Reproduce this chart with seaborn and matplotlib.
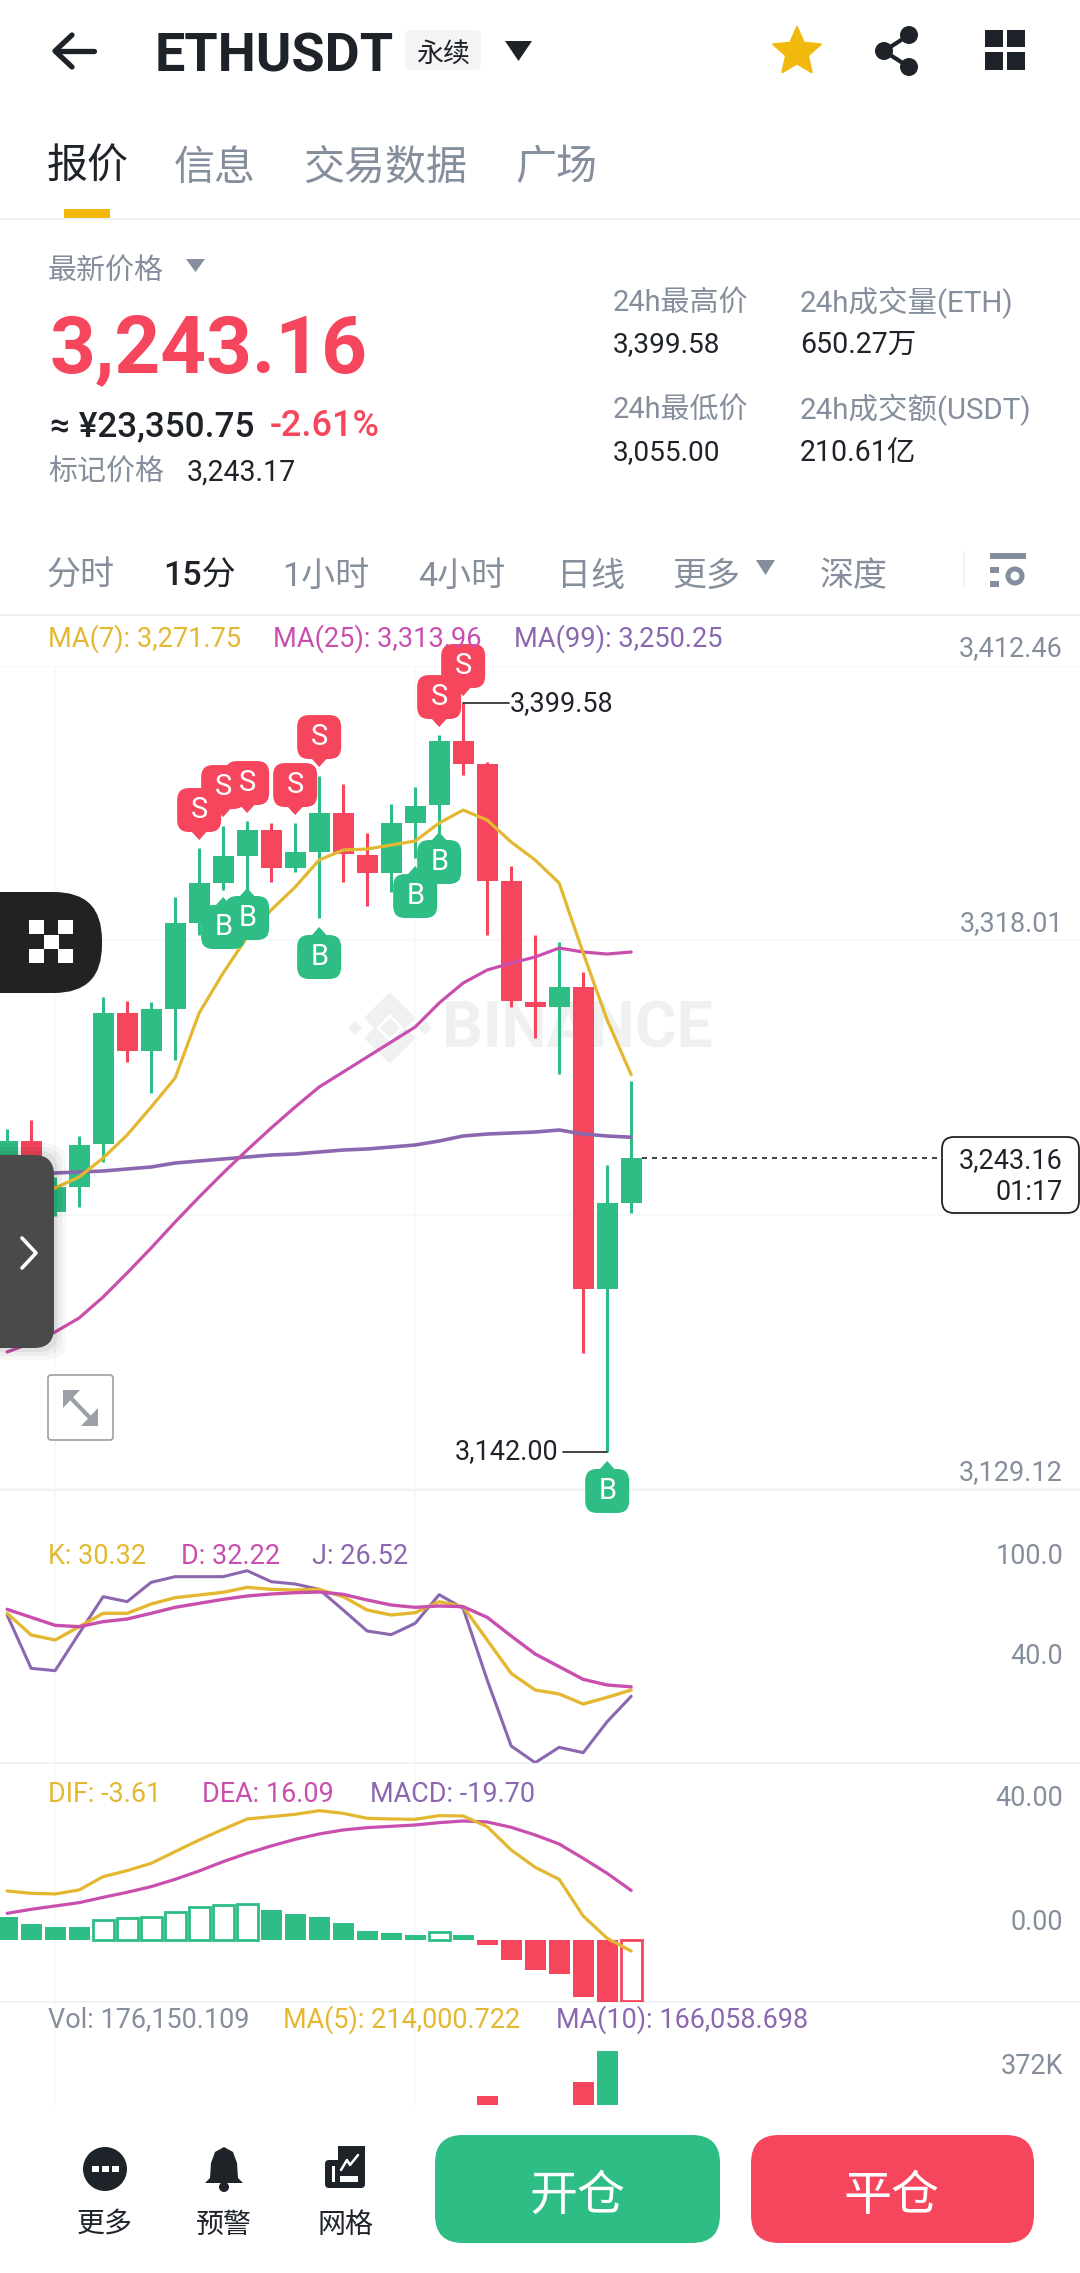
import numpy as np
import pandas as pd
import seaborn as sns
import matplotlib.pyplot as plt
from matplotlib.patches import FancyBboxPatch, Polygon, Circle, Rectangle

W, H = 1080, 2273
GREEN = '#2EBD85'
RED = '#F6465D'
YELLOW = '#E3B830'
PINK = '#C94FAE'
PURPLE = '#8B67B0'
GRAY = '#848E9C'
DARK = '#1E2329'
GRID = '#F7F8F8'
LINE = '#EFF0F2'

# candles, oldest first
opens = [3236.57, 3248.95, 3224.53, 3233.13, 3247.92, 3292.97, 3279.90, 3294.35, 3323.92,
         3337.68, 3346.96, 3355.90, 3342.83, 3348.34, 3361.75, 3347.31, 3341.12, 3358.31,
         3364.50, 3386.51, 3378.60, 3338.37, 3296.74, 3295.03, 3301.91, 3198.05, 3227.63]
closes = [3248.95, 3232.00, 3233.13, 3247.57, 3293.07, 3279.90, 3294.35, 3323.92, 3337.68,
          3346.96, 3355.90, 3342.83, 3348.34, 3361.75, 3347.65, 3341.12, 3358.31, 3364.16,
          3386.51, 3378.60, 3338.37, 3297.10, 3295.03, 3301.91, 3198.05, 3227.63, 3243.16]
highs = [3253.08, 3256.17, 3236.57, 3250.67, 3298.47, 3297.10, 3296.74, 3332.86, 3349.71,
         3357.28, 3359.00, 3358.31, 3358.31, 3374.47, 3371.72, 3354.87, 3364.84, 3370.69,
         3388.57, 3399.58, 3379.29, 3343.52, 3319.79, 3317.39, 3307.07, 3240.70, 3269.58]
lows = [3230.00, 3226.00, 3223.16, 3226.25, 3241.73, 3276.12, 3265.46, 3276.81, 3319.79,
        3335.27, 3335.27, 3338.02, 3341.46, 3325.64, 3338.02, 3329.77, 3334.58, 3346.27,
        3354.87, 3374.82, 3319.79, 3295.03, 3284.37, 3271.99, 3176.04, 3142.00, 3224.19]

ma7 = [3228.66, 3230.38, 3232.79, 3236.57, 3243.10, 3251.01, 3260.64, 3270.62, 3292.97,
       3306.73, 3319.11, 3328.39, 3336.30, 3345.59, 3349.02, 3349.37, 3350.74, 3352.12,
       3358.31, 3362.78, 3359.34, 3351.78, 3345.59, 3337.68, 3313.60, 3290.56, 3271.75]
ma25 = [3176.39, 3179.48, 3183.27, 3188.08, 3195.30, 3203.56, 3212.15, 3221.09, 3229.69,
        3237.95, 3245.85, 3253.42, 3260.64, 3267.52, 3272.68, 3277.84, 3283.00, 3288.15,
        3296.41, 3303.29, 3307.76, 3310.16, 3312.23, 3315.32, 3313.95, 3313.26, 3313.96]
ma99 = [3237.26, 3237.60, 3237.95, 3238.29, 3238.63, 3239.32, 3240.01, 3241.38, 3242.07,
        3242.76, 3243.45, 3244.14, 3244.48, 3245.17, 3245.85, 3246.20, 3246.89, 3247.57,
        3248.95, 3250.67, 3251.35, 3251.70, 3252.04, 3252.73, 3251.35, 3250.67, 3250.25]

k_vals = [76.32, 63.32, 60.32, 68.32, 76.32, 76.32, 81.92, 85.72, 87.32, 88.92, 91.92, 90.72, 90.32, 90.72,
          86.32, 78.32, 75.32, 76.72, 83.32, 80.32, 60.32, 40.32, 30.32, 27.92, 21.92, 25.92, 30.32]
d_vals = [78.72, 73.92, 69.12, 68.32, 71.32, 72.92, 76.32, 79.92, 82.32, 84.72, 86.72, 87.92, 88.72, 89.12,
          87.72, 84.32, 81.32, 79.92, 80.72, 80.32, 73.92, 62.72, 51.92, 44.32, 36.72, 33.32, 32.22]
j_vals = [75.32, 43.32, 41.92, 64.32, 86.32, 83.32, 94.92, 98.32, 98.32, 98.32, 101.92, 95.32, 93.92, 90.72,
          78.32, 65.72, 63.52, 70.32, 87.52, 79.32, 36.32, -3.28, -13.28, -4.08, -7.28, 11.32, 26.52]

dif = [15.92, 15.16, 14.95, 16.25, 20.58, 22.53, 24.91, 28.70, 32.49, 35.96, 39.31, 40.07, 40.83, 42.02,
       41.15, 39.53, 39.31, 39.20, 40.40, 40.29, 36.82, 29.24, 23.61, 19.71, 7.80, 0.54, -3.61]
dea = [8.66, 9.96, 11.05, 12.13, 13.86, 15.49, 17.33, 19.71, 22.42, 25.45, 28.16, 30.54, 32.71, 34.44,
       35.74, 36.50, 36.93, 37.36, 38.12, 38.66, 38.34, 36.61, 34.11, 31.19, 26.53, 21.66, 16.09]
macd_hist = [7.36, 5.20, 4.12, 4.12, 6.50, 7.04, 7.58, 9.21, 10.83, 11.37, 11.59, 9.75, 8.34, 7.58,
             5.42, 3.03, 2.17, 1.62, 2.49, 1.62, -1.62, -6.50, -9.75, -11.15, -18.41, -20.25, -19.70]
macd_hollow = [4, 5, 6, 7, 8, 9, 10, 18, 26]

# only the tallest bars reach above the cut-off edge of the panel
volumes = [120000, 95000, 70000, 80000, 150000, 75000, 70000, 140000, 130000,
           90000, 85000, 80000, 60000, 120000, 90000, 70000, 85000, 65000,
           130000, 90000, 208600, 160000, 130000, 133000, 259500, 372000, 176150]

sell_idx = [8, 9, 10, 12, 13, 18, 19]
sell_price = [3352.46, 3360.37, 3361.75, 3361.06, 3377.57, 3391.32, 3401.99]
buy_idx = [9, 10, 13, 17, 18, 25]
buy_price = [3332.86, 3335.96, 3322.55, 3343.52, 3355.22, 3138.90]

price_ticks = ['3,412.46', '3,318.01', '3,129.12']
price_grid = [3412.46, 3318.01, 3223.57, 3129.12]

idx = np.arange(len(opens))
is_up = [c >= o for o, c in zip(opens, closes)]

sns.set_theme(style='white')
plt.rcParams['font.family'] = ['Roboto', 'Noto Sans CJK SC', 'DejaVu Sans']

fig = plt.figure(figsize=(W / 100, H / 100), dpi=100, facecolor='white')


def px_axes(top, bottom, zorder=1):
    ax = fig.add_axes([0, 1 - bottom / H, 1, (bottom - top) / H], zorder=zorder)
    ax.axis('off')
    return ax


def panel_axes(top, bottom):
    ax = px_axes(top, bottom, zorder=2)
    for x in (2, 17):
        ax.axvline(x, color=GRID, lw=1.2, zorder=0)
    return ax


def finish(ax, ylim):
    ax.set_xlim(-0.2975, 44.70)
    ax.set_ylim(*ylim)
    ax.axis('off')


def draw_line(ax, values, color, lw=2.2):
    sns.lineplot(x=idx, y=values, color=color, lw=lw, ax=ax, estimator=None,
                 errorbar=None, legend=False, zorder=5)


# pixel layers: bg is under the charts, fg is on top of them
bg = px_axes(0, H, zorder=0)
bg.set_xlim(0, W)
bg.set_ylim(H, 0)
fg = px_axes(0, H, zorder=5)
fg.set_xlim(0, W)
fg.set_ylim(H, 0)


def txt(x, y, s, size, color=DARK, ha='left', weight='normal', ax=None, **kw):
    (ax or fg).text(x, y, s, fontsize=size * 0.72, color=color, ha=ha, va='center',
                    fontweight=weight, **kw)


def tri(x0, x1, y0, y1, color):
    fg.add_patch(Polygon([(x0, y0), (x1, y0), ((x0 + x1) / 2, y1)], color=color, lw=0))


def box(x0, y0, x1, y1, r, color, ax=None, **kw):
    (ax or fg).add_patch(FancyBboxPatch((x0 + r, y0 + r), x1 - x0 - 2 * r, y1 - y0 - 2 * r,
                                        boxstyle=f'round,pad={r},rounding_size={r}',
                                        facecolor=color, lw=kw.pop('lw', 0), **kw))


# main candle chart
ylim_main = (3129.12, 3412.46)
ax_main = panel_axes(665.6, 1489.4)
for p in price_grid:
    ax_main.axhline(p, color=GRID, lw=1.6, zorder=0)
body = [abs(c - o) for o, c in zip(opens, closes)]
bottoms = [min(o, c) for o, c in zip(opens, closes)]
colors = [GREEN if u else RED for u in is_up]
ax_main.vlines(idx, lows, highs, colors=colors, lw=2.2, zorder=2)
ax_main.bar(idx, body, bottom=bottoms, width=0.87, color=colors, lw=0, zorder=3)
draw_line(ax_main, ma99, PURPLE, 2.6)
draw_line(ax_main, ma25, PINK, 2.3)
draw_line(ax_main, ma7, YELLOW, 2.3)
finish(ax_main, ylim_main)

# KDJ
ylim_kdj = (-13.48, 150.32)
ax_kdj = panel_axes(1490, 1763)
draw_line(ax_kdj, j_vals, PURPLE, 2.2)
draw_line(ax_kdj, k_vals, YELLOW, 2.4)
draw_line(ax_kdj, d_vals, PINK, 2.4)
finish(ax_kdj, ylim_kdj)

# MACD
ylim_macd = (-20.15, 57.5)
ax_macd = panel_axes(1763, 2002)
sns.barplot(x=idx, y=macd_hist, native_scale=True, width=0.87, color=GREEN, errorbar=None, ax=ax_macd, zorder=3)
for bar in ax_macd.patches:
    i = int(round(bar.get_x() + bar.get_width() / 2))
    c = GREEN if macd_hist[i] >= 0 else RED
    if i in macd_hollow:
        bar.set(facecolor='white', edgecolor=c, linewidth=2.0)
    else:
        bar.set(facecolor=c, edgecolor='none', linewidth=0)
draw_line(ax_macd, dea, PINK, 2.3)
draw_line(ax_macd, dif, YELLOW, 2.3)
finish(ax_macd, ylim_macd)

# Volume, the bottom bar cuts it off well above zero
ylim_vol = (176150, 550000)
ax_vol = panel_axes(2002, 2105)
sns.barplot(x=idx, y=volumes, native_scale=True, width=0.87, color=GREEN, errorbar=None, ax=ax_vol, zorder=3)
for bar in ax_vol.patches:
    i = int(round(bar.get_x() + bar.get_width() / 2))
    bar.set(facecolor=colors[i], edgecolor='none')
finish(ax_vol, ylim_vol)

for y in (1490, 1763, 2002):
    bg.plot([0, W], [y, y], color=LINE, lw=1.2)

# watermark
txt(442, 1030, 'BINANCE', 64, '#EEF0F1', weight='bold', ax=bg)
bg.add_patch(Polygon([(390, 992), (416, 1018), (405, 1029), (390, 1014), (375, 1029), (364, 1018)], color='#EEF0F1', lw=0))
bg.add_patch(Polygon([(390, 1064), (416, 1038), (405, 1027), (390, 1042), (375, 1027), (364, 1038)], color='#EEF0F1', lw=0))
bg.add_patch(Polygon([(390, 1018), (400, 1028), (390, 1038), (380, 1028)], color='#EEF0F1', lw=0))
bg.add_patch(Polygon([(355, 1021), (362, 1028), (355, 1035), (348, 1028)], color='#EEF0F1', lw=0))
bg.add_patch(Polygon([(425, 1021), (432, 1028), (425, 1035), (418, 1028)], color='#EEF0F1', lw=0))


def to_px(ax, i, val):
    return fg.transData.inverted().transform(ax.transData.transform((i, val)))


# buy / sell tags hang off the candles
fig.canvas.draw()
for i, p in zip(sell_idx, sell_price):
    x, y = to_px(ax_main, i, p)
    fg.add_patch(Polygon([(x - 9, y - 10), (x + 9, y - 10), (x, y)], color=RED, lw=0, zorder=3))
    box(x - 22, y - 52, x + 22, y - 8, 12, RED, zorder=3)
    txt(x, y - 30, 'S', 29, 'white', ha='center', zorder=4)
for i, p in zip(buy_idx, buy_price):
    x, y = to_px(ax_main, i, p)
    fg.add_patch(Polygon([(x - 9, y + 10), (x + 9, y + 10), (x, y)], color=GREEN, lw=0, zorder=3))
    box(x - 22, y + 8, x + 22, y + 52, 12, GREEN, zorder=3)
    txt(x, y + 30, 'B', 29, 'white', ha='center', zorder=4)

# high / low notes
hx, hy = to_px(ax_main, 19, 3399.58)
fg.plot([hx, hx + 46], [hy, hy], color='#222222', lw=1.2)
txt(hx + 47, hy, '3,399.58', 27)
lx, ly = to_px(ax_main, 25, 3142.00)
fg.plot([lx - 44, lx], [ly, ly], color='#222222', lw=1.2)
txt(lx - 49, ly, '3,142.00', 27, ha='right')

# last price marker
cx, cy = to_px(ax_main, 26, 3243.16)
fg.plot([cx + 11, 942], [cy, cy], color='#222222', lw=1.2, ls=(0, (3, 3)))
box(942, 1137, 1079, 1213, 12, 'white', edgecolor='#222222', lw=1.3)
txt(1063, 1161, '3,243.16', 27, ha='right')
txt(1063, 1193, '01:17', 27, ha='right')

# chart legends and axis labels
txt(48, 639, 'MA(7): 3,271.75', 27.3, YELLOW)
txt(273, 639, 'MA(25): 3,313.96', 27.3, PINK)
txt(514, 639, 'MA(99): 3,250.25', 27.3, PURPLE)
for s, y in zip(price_ticks, (649, 924, 1473)):
    txt(1063, y, s, 27, GRAY, ha='right')
txt(48, 1556, 'K: 30.32', 27, YELLOW)
txt(181, 1556, 'D: 32.22', 27, PINK)
txt(312, 1556, 'J: 26.52', 27, PURPLE)
txt(1063, 1557, '100.0', 27, GRAY, ha='right')
txt(1063, 1657, '40.0', 27, GRAY, ha='right')
txt(48, 1795, 'DIF: -3.61', 27, YELLOW)
txt(202, 1795, 'DEA: 16.09', 27, PINK)
txt(370, 1795, 'MACD: -19.70', 27, PURPLE)
txt(1063, 1799, '40.00', 27, GRAY, ha='right')
txt(1063, 1923, '0.00', 27, GRAY, ha='right')
txt(48, 2020, 'Vol: 176,150.109', 27, GRAY)
txt(283, 2020, 'MA(5): 214,000.722', 27, YELLOW)
txt(556, 2020, 'MA(10): 166,058.698', 27, PURPLE)
txt(1063, 2066, '372K', 27, GRAY, ha='right')

# top bar
fg.plot([56, 94], [51, 51], color=DARK, lw=3.8, solid_capstyle='round')
fg.plot([72, 55, 72], [35, 51, 67], color=DARK, lw=3.8, solid_capstyle='round', solid_joinstyle='round')
txt(155, 57, 'ETHUSDT', 54, DARK, weight='bold')
box(405, 30, 481, 70, 6, '#F5F5F5')
txt(443, 54, '永续', 27, DARK, ha='center')
tri(505, 532, 41, 61, DARK)
star_a = np.deg2rad(90 + 36 * np.arange(10))
star_r = np.array([25, 11.5] * 5)
fg.add_patch(Polygon(np.c_[797 + star_r * np.cos(star_a), 52 - star_r * np.sin(star_a)], color='#F0B90B', lw=1.5,
                     joinstyle='round'))
for c in ((909, 35), (884, 51), (909, 67)):
    fg.add_patch(Circle(c, 9, color=DARK, lw=0))
fg.plot([909, 884, 909], [35, 51, 67], color=DARK, lw=3)
for x0, y0, x1, y1 in ((985, 30, 1003, 47), (1007, 30, 1025, 47), (985, 52, 1003, 70), (1007, 52, 1025, 70)):
    fg.add_patch(Rectangle((x0, y0), x1 - x0, y1 - y0, color=DARK, lw=0))

# tabs
txt(47, 168, '报价', 41, DARK, weight='medium')
txt(174, 168, '信息', 41, GRAY)
txt(303, 168, '交易数据', 41, GRAY)
txt(515, 168, '广场', 41, GRAY)
fg.add_patch(Rectangle((64, 209), 46, 9, color='#F0B90B', lw=0))
fg.plot([0, W], [219, 219], color=LINE, lw=1.5)

# price summary
txt(48, 271, '最新价格', 29, GRAY)
tri(186, 205, 259, 272, GRAY)
txt(50, 351, '3,243.16', 80, RED, weight='bold')
txt(50, 427, '≈ ¥23,350.75', 35, DARK, weight='medium')
txt(270, 427, '-2.61%', 36, RED, weight='medium')
txt(48, 472, '标记价格', 29, GRAY)
txt(187, 473, '3,243.17', 28.5)
txt(613, 303, '24h最高价', 29, GRAY)
txt(613, 345, '3,399.58', 28)
txt(800, 303, '24h成交量(ETH)', 29.5, GRAY)
txt(800, 345, '650.27万', 28.5)
txt(613, 410, '24h最低价', 29, GRAY)
txt(613, 453, '3,055.00', 28)
txt(800, 410, '24h成交额(USDT)', 29.5, GRAY)
txt(800, 453, '210.61亿', 28.5)

# interval row
txt(47, 577, '分时', 34, GRAY)
txt(163, 577, '15分', 34, DARK, weight='medium')
txt(282, 577, '1小时', 34, GRAY)
txt(418, 577, '4小时', 34, GRAY)
txt(557, 577, '日线', 34, GRAY)
txt(672, 577, '更多', 34, GRAY)
tri(756, 775, 560, 575, GRAY)
txt(820, 577, '深度', 34, GRAY)
fg.plot([964, 964], [552, 585], color=LINE, lw=1.2)
fg.add_patch(Rectangle((990, 553), 36, 6, color=GRAY, lw=0))
fg.add_patch(Rectangle((990, 567), 9, 6, color=GRAY, lw=0))
fg.add_patch(Rectangle((990, 581), 9, 6, color=GRAY, lw=0))
fg.add_patch(Circle((1015, 576), 7, facecolor='white', edgecolor=GRAY, lw=3.6))
fg.plot([0, W], [615, 615], color=LINE, lw=1.2)

# floating widgets
box(-60, 892, 102, 993, 48, '#222222')
for x0, y0 in ((29, 920), (58, 920), (44, 935), (29, 949), (58, 949)):
    fg.add_patch(Rectangle((x0, y0), 15, 14, color='white', lw=0))
for pad, a in ((12, 0.03), (8, 0.04), (4, 0.05)):
    box(-40, 1155 - pad, 54 + pad, 1348 + pad, 20, 'black', alpha=a)
box(-40, 1155, 54, 1348, 20, '#4A4A4A')
fg.plot([22, 36, 22], [1238, 1253, 1268], color='white', lw=2.6, solid_capstyle='round')
box(48, 1375, 113, 1440, 3, 'white', edgecolor='#9AA0A6', lw=1.2)
fg.add_patch(Polygon([(63, 1390), (80, 1390), (63, 1408)], color='#9AA0A6', lw=0))
fg.add_patch(Polygon([(98, 1426), (81, 1426), (98, 1408)], color='#9AA0A6', lw=0))
fg.plot([66, 95], [1393, 1423], color='#9AA0A6', lw=3)

# bottom bar
fg.add_patch(Circle((105, 2169), 22, color=DARK, lw=0))
for x in (95, 105, 115):
    fg.add_patch(Rectangle((x - 3.5, 2166), 7, 6, color='white', lw=0))
fg.add_patch(Polygon([(224, 2147), (233, 2152), (237, 2163), (238, 2178), (243, 2183), (205, 2183), (210, 2178),
                      (211, 2163), (215, 2152)], color=DARK, lw=0))
fg.add_patch(Circle((224, 2187), 5, color=DARK, lw=0))
box(325, 2160, 365, 2188, 4, DARK)
fg.add_patch(Rectangle((338, 2146), 27, 20, color=DARK, lw=0))
fg.plot([341, 347, 350, 358], [2170, 2160, 2165, 2155], color='white', lw=1.8)
fg.add_patch(Rectangle((332, 2166), 3, 16, color='white', lw=0))
fg.add_patch(Rectangle((340, 2176), 18, 6, color='white', lw=0))
txt(105, 2225, '更多', 28, DARK, ha='center')
txt(224, 2225, '预警', 28, DARK, ha='center')
txt(345, 2225, '网格', 28, DARK, ha='center')
box(435, 2135, 720, 2243, 28, GREEN)
txt(578, 2197, '开仓', 48, 'white', ha='center', weight='medium')
box(751, 2135, 1034, 2243, 28, RED)
txt(892, 2197, '平仓', 48, 'white', ha='center', weight='medium')

plt.savefig('out.png', dpi=100, facecolor='white')
plt.close()
